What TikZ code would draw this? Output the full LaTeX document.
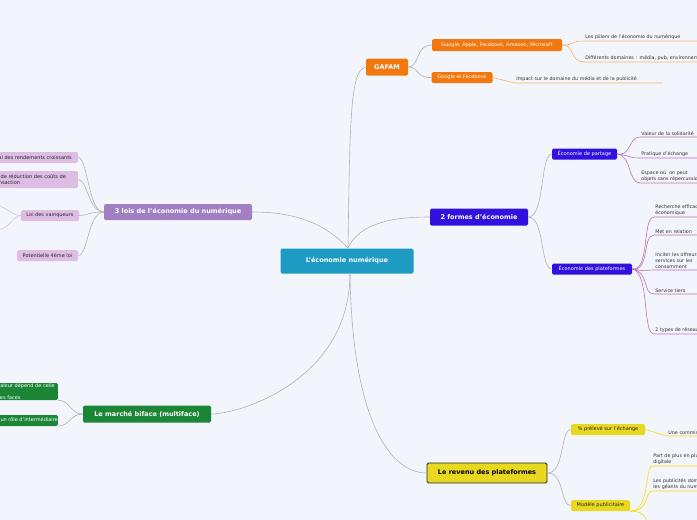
\documentclass[tikz,border=0pt]{standalone}
\usepackage{fontspec}
\setmainfont{DejaVu Sans}
\begin{document}
\begin{tikzpicture}[x=1pt,y=-1pt,
  box/.style={rounded corners=1.5pt,inner sep=0pt,text=white,font=\fontsize{5}{6}\selectfont},
  main/.style={box,font=\fontsize{6.5}{8}\selectfont\bfseries},
  leaf/.style={anchor=south west,inner sep=1.2pt,align=left,font=\fontsize{4.8}{6.2}\selectfont,text=black!80},
  gl/.style={draw=black!30,line width=0.6pt},
  ol/.style={draw=orange!60,line width=0.6pt},
  pl/.style={draw=violet!55,line width=0.6pt},
  yl/.style={draw=yellow!80!orange,line width=0.6pt},
  ll/.style={draw=violet!25,line width=0.6pt}]
\definecolor{bg}{HTML}{F3F5FC}
\definecolor{rootc}{HTML}{1D9BC2}
\definecolor{orc}{HTML}{F0780E}
\definecolor{blc}{HTML}{3210DE}
\definecolor{pur}{HTML}{A080C2}
\definecolor{lpur}{HTML}{DDBDE4}
\definecolor{grn}{HTML}{1B8636}
\definecolor{yel}{HTML}{E8D820}
\fill[bg] (0,0) rectangle (697,520);
\useasboundingbox (0,0) rectangle (697,520);
\clip (0,0) rectangle (697,520);
\coordinate (cx) at (628,0);
\coordinate (lx) at (88,0);
% root
\node[main,fill=rootc,minimum width=133,minimum height=25] (root) at (347,261) {L'économie numérique};
% main nodes
\node[main,fill=orc,minimum width=42,minimum height=17] (gafam) at (387,67) {GAFAM};
\node[main,fill=blc,minimum width=98,minimum height=17] (formes) at (479,217) {2 formes d'économie};
\node[main,fill=pur,minimum width=148,minimum height=16] (lois) at (178,212) {3 lois de l'économie du numérique};
\node[main,fill=grn,minimum width=128,minimum height=17] (biface) at (147,414) {Le marché biface (multiface)};
\node[main,fill=yel,draw=black!85,line width=0.8pt,text=black,minimum width=120,minimum height=20] (revenu) at (487,473) {Le revenu des plateformes};
\coordinate (rt) at (348,248);
\coordinate (rb) at (350,273);
\draw[gl] (rt) .. controls (350,120) and (350,70) .. (gafam.west);
\draw[gl] (rt) .. controls (360,222) and (395,217) .. (formes.west);
\draw[gl] (rt) .. controls (320,218) and (285,212) .. (lois.east);
\draw[gl] (rb) .. controls (350,380) and (240,414) .. (biface.east);
\draw[gl] (rb) .. controls (352,420) and (390,473) .. (revenu.west);
% GAFAM children
\node[box,fill=orc,minimum width=130,minimum height=12] (gam) at (497,45) {Google, Apple, Facebook, Amazon, Microsoft};
\node[box,fill=orc,minimum width=61,minimum height=11] (gf) at (462,77.5) {Google et Facebook};
\draw[gl] (gafam.east) .. controls (420,67) and (415,45) .. (gam.west);
\draw[gl] (gafam.east) .. controls (420,67) and (415,78) .. (gf.west);
\node[leaf,text width=200] (g1) at (584,41) {Les piliers de l'économie du numérique};
\node[leaf,text width=200] (g2) at (584,62) {Différents domaines : média, pub, environnement};
\node[leaf,text width=145] (g3) at (515,83) {Impact sur le domaine du média et de la publicité};
\draw[ol] (gam.east) .. controls (575,45) and (570,41) .. (g1.south west) -- (g1.south east);
\draw[ol] (gam.east) .. controls (575,45) and (570,62) .. (g2.south west) -- (g2.south east);
\draw[ol] (gf.east) -- (g3.south west) -- (g3.south east);
% 2 formes children
\node[box,fill=blc,minimum width=65,minimum height=11] (part) at (584.5,154) {Économie de partage};
\node[box,fill=blc,minimum width=80,minimum height=11] (plat) at (592,269) {Économie des plateformes};
\draw[gl] (formes.east) .. controls (545,217) and (540,154) .. (part.west);
\draw[gl] (formes.east) .. controls (545,217) and (540,269) .. (plat.west);
\node[leaf,text width=80] (p1) at (640,137) {Valeur de la solidarité};
\node[leaf,text width=80] (p2) at (640,158) {Pratique d'échange};
\node[leaf,text width=80] (p3) at (640,183) {Espace où~ on peut\\objets sans répercussion};
\foreach \l in {p1,p2,p3} \draw[pl] (part.east) .. controls (632,156) and (cx |- \l.south west) .. (\l.south west) -- (\l.south east);
\node[leaf,text width=60] (q1) at (654,217) {Recherche efficacité\\économique};
\node[leaf,text width=60] (q2) at (654,235) {Met en relation};
\node[leaf,text width=60] (q3) at (654,270) {Inciter les offreurs\\services sur les\\consomment};
\node[leaf,text width=60] (q4) at (654,294) {Service tiers};
\node[leaf,text width=60] (q5) at (654,334) {2 types de réseaux};
\draw[pl] (plat.east) .. controls (650,272) and (642,217) .. (q1.south west) -- (q1.south east);
\draw[pl] (plat.east) .. controls (650,272) and (642,235) .. (q2.south west) -- (q2.south east);
\draw[pl] (plat.east) .. controls (650,272) and (642,270) .. (q3.south west) -- (q3.south east);
\draw[pl] (plat.east) .. controls (650,272) and (642,294) .. (q4.south west) -- (q4.south east);
\draw[pl] (plat.east) .. controls (650,272) and (642,334) .. (q5.south west) -- (q5.south east);
% 3 lois children
\node[box,fill=lpur,text=black!85,minimum width=88,minimum height=11,anchor=east] (l1) at (78,157.5) {Loi des rendements croissants};
\node[box,fill=lpur,text=black!85,minimum width=88,minimum height=17,anchor=east,align=left,text width=84] (l2) at (78,179.5) {Loi de réduction des coûts de\\transaction};
\node[box,fill=lpur,text=black!85,minimum width=58,minimum height=11] (l3) at (50,215.5) {Loi des vainqueurs};
\node[box,fill=lpur,text=black!85,minimum width=61,minimum height=11] (l4) at (47.5,255.5) {Potentielle 4ème loi};
\foreach \l in {l1,l2,l3,l4} \draw[gl] (lois.west) .. controls (88,212) and (lx |- \l.east) .. (\l.east);
\coordinate (lv) at (-5,230);
\coordinate (lu) at (-5,205);
\draw[ll] (l3.west) .. controls (12,216) and (10,230) .. (lv);
\draw[ll] (l3.west) .. controls (12,216) and (10,208) .. (lu);
% biface children
\node[box,fill=grn,minimum width=70,minimum height=17,anchor=east,align=left,text width=66] (b1) at (58,391.5) {La valeur dépend de celle des\\autres faces};
\node[box,fill=grn,minimum width=70,minimum height=11,anchor=east] (b2) at (58,420.5) {La plateforme a un rôle d'intermédiaire};
\draw[gl] (biface.west) .. controls (70,414) and (70,400) .. (b1.south east);
\draw[gl] (biface.west) .. controls (70,414) and (70,426) .. (b2.south east);
% revenu children
\node[box,fill=yel,text=black!85,minimum width=74,minimum height=11] (pct) at (608,429.5) {\% prélevé sur l'échange};
\node[box,fill=yel,text=black!85,minimum width=59,minimum height=11] (pub) at (600.5,505.5) {Modèle publicitaire};
\draw[gl] (revenu.east) .. controls (565,473) and (560,430) .. (pct.west);
\draw[gl] (revenu.east) .. controls (565,473) and (560,506) .. (pub.west);
\node[leaf,text width=80] (y1) at (667,436) {Une commission};
\node[leaf,text width=100] (y2) at (652,466) {Part de plus en plus\\digitale};
\node[leaf,text width=100] (y3) at (652,491) {Les publicités dominées par\\les géants du numérique};
\coordinate (y4) at (652,530);
\draw[yl] (pct.east) -- (y1.south west) -- (y1.south east);
\draw[yl] (pub.south east) .. controls (650,511) and (645,466) .. (y2.south west) -- (y2.south east);
\draw[yl] (pub.south east) .. controls (650,511) and (645,491) .. (y3.south west) -- (y3.south east);
\draw[yl] (pub.south east) .. controls (650,511) and (645,525) .. (y4);
\end{tikzpicture}
\end{document}
